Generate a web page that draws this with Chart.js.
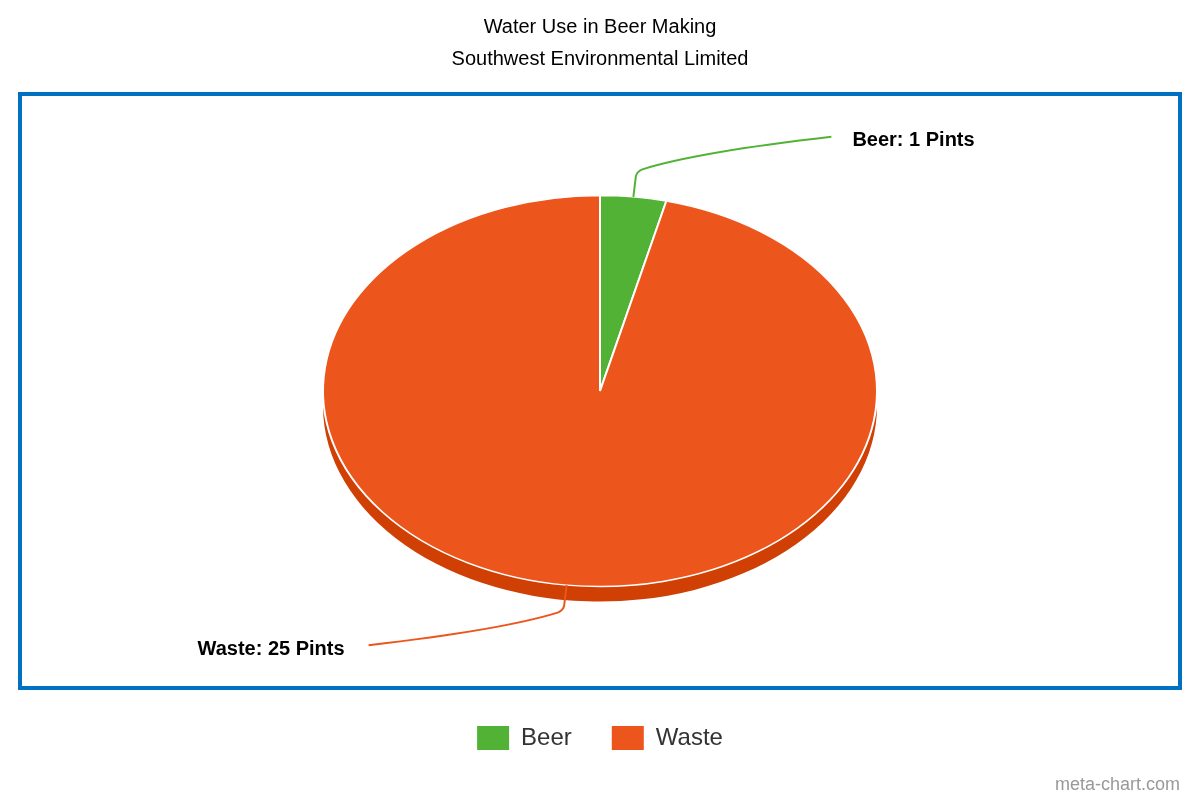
<!DOCTYPE html>
<html>
<head>
<meta charset="utf-8">
<script src="https://cdn.jsdelivr.net/npm/chart.js@4/dist/chart.umd.min.js"></script>
<style>
  html, body { margin: 0; padding: 0; background: #fff; }
  #wrap { position: relative; width: 1200px; height: 800px; }
</style>
</head>
<body>
<div id="wrap"><canvas id="c" width="1200" height="800"></canvas></div>
<script>
const titleLines = ['Water Use in Beer Making', 'Southwest Environmental Limited'];
const categories = ['Beer', 'Waste'];
const values = [1, 25];
const unit = 'Pints';
const colors = ['#52B236', '#EC561C'];
const sideColors = ['#3E9424', '#D03F04'];

const FONT = "'Liberation Sans', Arial, Helvetica, sans-serif";
const squash = 0.706;   // vertical flattening of the pie
const depth = 15;       // 3D side depth in px

function xf(ctx, area) {
  const cx = (area.left + area.right) / 2, cy = (area.top + area.bottom) / 2;
  ctx.translate(cx, cy); ctx.scale(1, squash); ctx.translate(-cx, -cy);
}

const pie3d = {
  id: 'pie3d',
  beforeDraw(chart) {
    const ctx = chart.ctx;
    ctx.save();
    ctx.strokeStyle = '#0070C0';
    ctx.lineWidth = 4;
    ctx.strokeRect(20, 94, 1160, 594);
    ctx.restore();
  },
  beforeDatasetsDraw(chart) {
    const ctx = chart.ctx;
    ctx.save();
    xf(ctx, chart.chartArea);
    const arcs = chart.getDatasetMeta(0).data;
    arcs.forEach((a, i) => {
      ctx.beginPath();
      const yy = a.y + depth / squash;
      ctx.moveTo(a.x, yy);
      ctx.arc(a.x, yy, a.outerRadius, a.startAngle, a.endAngle);
      ctx.closePath();
      ctx.fillStyle = sideColors[i];
      ctx.fill();
    });
  },
  afterDatasetsDraw(chart) {
    chart.ctx.restore();
  },
  afterDraw(chart) {
    const ctx = chart.ctx;
    const arcs = chart.getDatasetMeta(0).data;
    ctx.save();
    arcs.forEach((a, i) => {
      const mid = (a.startAngle + a.endAngle) / 2;
      const c = Math.cos(mid), s = Math.sin(mid);
      const R = a.outerRadius;
      const sx = Math.sign(c) || 1, sy = Math.sign(s) || 1;
      const p0 = { x: a.x + R * c, y: a.y + squash * R * s };
      const p1 = { x: p0.x + 3 * sx, y: p0.y + 25 * sy };
      const end = { x: p1.x + sx * 195, y: p1.y + sy * 35 };
      const ctrl = { x: p1.x + sx * 63, y: p1.y + sy * 20 };
      ctx.beginPath();
      ctx.moveTo(p0.x, p0.y);
      ctx.lineTo(p1.x - 0.6 * sx, p1.y - 5 * sy);
      ctx.quadraticCurveTo(p1.x, p1.y, p1.x + 6 * sx, p1.y + 2.5 * sy);
      ctx.quadraticCurveTo(ctrl.x, ctrl.y, end.x, end.y);
      ctx.strokeStyle = colors[i];
      ctx.lineWidth = 2;
      ctx.stroke();
      ctx.fillStyle = '#000';
      ctx.font = 'bold 20px ' + FONT;
      ctx.textBaseline = 'middle';
      ctx.textAlign = sx > 0 ? 'left' : 'right';
      ctx.fillText(categories[i] + ': ' + values[i] + ' ' + unit, end.x + sx * (sx > 0 ? 21 : 24), end.y + 4);
    });
    ctx.fillStyle = '#999';
    ctx.font = '18px ' + FONT;
    ctx.textAlign = 'right';
    ctx.textBaseline = 'middle';
    ctx.fillText('meta-chart.com', 1180, 785);
    ctx.restore();
  }
};

new Chart(document.getElementById('c'), {
  type: 'pie',
  data: {
    labels: categories,
    datasets: [{
      data: values,
      backgroundColor: colors,
      borderColor: '#ffffff',
      borderWidth: 2,
      radius: 277
    }]
  },
  options: {
    responsive: false,
    animation: false,
    events: [],
    devicePixelRatio: 1,
    layout: { padding: { top: 0, bottom: 40, left: 0, right: 0 } },
    plugins: {
      title: {
        display: true,
        text: titleLines,
        color: '#000',
        font: { family: FONT, size: 20, weight: 'normal', lineHeight: 1.6 },
        padding: { top: 11, bottom: 21 }
      },
      legend: {
        display: true,
        position: 'bottom',
        labels: {
          boxWidth: 32,
          boxHeight: 24,
          padding: 40,
          color: '#333',
          font: { family: FONT, size: 24 },
          generateLabels(chart) {
            return Chart.overrides.pie.plugins.legend.labels.generateLabels(chart).map(l => ({ ...l, lineWidth: 0, strokeStyle: 'rgba(0,0,0,0)' }));
          }
        }
      },
      tooltip: { enabled: false }
    }
  },
  plugins: [pie3d]
});
</script>
</body>
</html>
